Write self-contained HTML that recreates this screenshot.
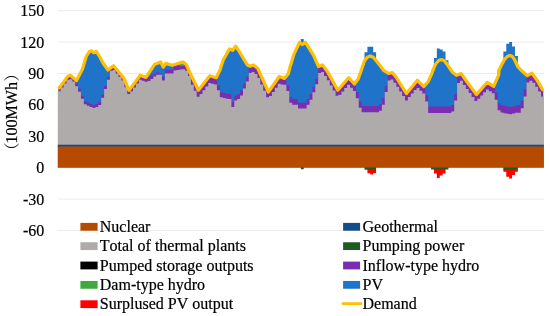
<!DOCTYPE html>
<html><head><meta charset="utf-8"><title>chart</title>
<style>
html,body{margin:0;padding:0;background:#fff;}
body{width:550px;height:316px;position:relative;overflow:hidden;}
.t{font-family:"Liberation Serif",serif;font-size:16px;font-kerning:none;fill:#000;stroke:#000;stroke-width:0.2px;}
</style></head><body>
<svg width="550" height="316" viewBox="0 0 550 316" style="position:absolute;left:0;top:0">
<rect width="550" height="316" fill="#fff"/>
<line x1="57.5" x2="544" y1="10.70" y2="10.70" stroke="#ebebeb" stroke-width="1"/>
<line x1="57.5" x2="544" y1="42.10" y2="42.10" stroke="#ebebeb" stroke-width="1"/>
<line x1="57.5" x2="544" y1="73.50" y2="73.50" stroke="#ebebeb" stroke-width="1"/>
<line x1="57.5" x2="544" y1="104.90" y2="104.90" stroke="#ebebeb" stroke-width="1"/>
<line x1="57.5" x2="544" y1="136.30" y2="136.30" stroke="#ebebeb" stroke-width="1"/>
<line x1="57.5" x2="544" y1="167.70" y2="167.70" stroke="#ebebeb" stroke-width="1"/>
<line x1="57.5" x2="544" y1="199.10" y2="199.10" stroke="#ebebeb" stroke-width="1"/>
<line x1="57.5" x2="544" y1="230.50" y2="230.50" stroke="#ebebeb" stroke-width="1"/>
<path d="M58.50,166.70L58.50,87.80L60.69,87.80L60.69,84.01L63.59,84.01L63.59,80.06L66.48,80.06L66.48,76.30L69.37,76.30L69.37,75.74L72.27,75.74L72.27,78.16L75.16,78.16L75.16,80.30L78.05,80.30L78.05,74.80L80.95,74.80L80.95,69.31L83.84,69.31L83.84,59.57L86.73,59.57L86.73,53.40L89.63,53.40L89.63,50.88L92.52,50.88L92.52,52.62L95.41,52.62L95.41,52.38L98.31,52.38L98.31,56.97L101.20,56.97L101.20,62.30L104.10,62.30L104.10,66.60L106.99,66.60L106.99,69.67L109.88,69.67L109.88,67.46L112.78,67.46L112.78,66.65L115.67,66.65L115.67,70.05L118.56,70.05L118.56,73.51L121.46,73.51L121.46,77.03L124.35,77.03L124.35,82.90L127.24,82.90L127.24,89.67L130.14,89.67L130.14,86.93L133.03,86.93L133.03,83.03L135.92,83.03L135.92,79.14L138.82,79.14L138.82,75.25L141.71,75.25L141.71,76.30L144.60,76.30L144.60,77.32L147.50,77.32L147.50,72.91L150.39,72.91L150.39,68.51L153.28,68.51L153.28,64.46L156.18,64.46L156.18,63.27L159.07,63.27L159.07,62.08L161.96,62.08L161.96,67.03L164.86,67.03L164.86,63.55L167.75,63.55L167.75,64.41L170.64,64.41L170.64,65.27L173.54,65.27L173.54,64.45L176.43,64.45L176.43,63.56L179.32,63.56L179.32,62.68L182.22,62.68L182.22,62.54L185.11,62.54L185.11,65.39L188.01,65.39L188.01,71.79L190.90,71.79L190.90,77.80L193.79,77.80L193.79,83.73L196.69,83.73L196.69,89.65L199.58,89.65L199.58,86.88L202.47,86.88L202.47,83.23L205.37,83.23L205.37,79.57L208.26,79.57L208.26,75.92L211.15,75.92L211.15,76.63L214.05,76.63L214.05,77.49L216.94,77.49L216.94,73.27L219.83,73.27L219.83,66.00L222.73,66.00L222.73,58.30L225.62,58.30L225.62,53.25L228.51,53.25L228.51,49.19L231.41,49.19L231.41,50.08L234.30,50.08L234.30,46.42L237.19,46.42L237.19,50.65L240.09,50.65L240.09,55.27L242.98,55.27L242.98,60.10L245.87,60.10L245.87,64.91L248.77,64.91L248.77,66.09L251.66,66.09L251.66,65.04L254.55,65.04L254.55,66.91L257.45,66.91L257.45,71.05L260.34,71.05L260.34,77.43L263.24,77.43L263.24,83.81L266.13,83.81L266.13,90.18L269.02,90.18L269.02,89.06L271.92,89.06L271.92,84.94L274.81,84.94L274.81,80.83L277.70,80.83L277.70,76.71L280.60,76.71L280.60,77.52L283.49,77.52L283.49,77.78L286.38,77.78L286.38,74.43L289.28,74.43L289.28,64.63L292.17,64.63L292.17,55.13L295.06,55.13L295.06,48.66L297.96,48.66L297.96,42.52L300.85,42.52L300.85,38.90L303.74,38.90L303.74,42.19L306.64,42.19L306.64,46.56L309.53,46.56L309.53,51.20L312.42,51.20L312.42,56.01L315.32,56.01L315.32,62.57L318.21,62.57L318.21,66.04L321.10,66.04L321.10,64.97L324.00,64.97L324.00,68.94L326.89,68.94L326.89,73.22L329.78,73.22L329.78,78.41L332.68,78.41L332.68,83.61L335.57,83.61L335.57,88.80L338.46,88.80L338.46,87.76L341.36,87.76L341.36,84.41L344.25,84.41L344.25,81.06L347.15,81.06L347.15,77.71L350.04,77.71L350.04,80.83L352.93,80.83L352.93,83.98L355.83,83.98L355.83,80.22L358.72,80.22L358.72,73.38L361.61,73.38L361.61,65.00L364.51,65.00L364.51,52.20L367.40,52.20L367.40,46.70L370.29,46.70L370.29,46.70L373.19,46.70L373.19,52.20L376.08,52.20L376.08,62.47L378.97,62.47L378.97,66.06L381.87,66.06L381.87,69.92L384.76,69.92L384.76,71.94L387.65,71.94L387.65,73.39L390.55,73.39L390.55,72.59L393.44,72.59L393.44,75.65L396.33,75.65L396.33,79.82L399.23,79.82L399.23,84.39L402.12,84.39L402.12,88.96L405.01,88.96L405.01,93.54L407.91,93.54L407.91,90.12L410.80,90.12L410.80,86.59L413.69,86.59L413.69,83.06L416.59,83.06L416.59,80.93L419.48,80.93L419.48,83.83L422.38,83.83L422.38,86.46L425.27,86.46L425.27,83.18L428.16,83.18L428.16,78.42L431.06,78.42L431.06,70.00L433.95,70.00L433.95,57.90L436.84,57.90L436.84,48.40L439.74,48.40L439.74,49.60L442.63,49.60L442.63,51.50L445.52,51.50L445.52,60.20L448.42,60.20L448.42,68.41L451.31,68.41L451.31,72.36L454.20,72.36L454.20,74.63L457.10,74.63L457.10,74.58L459.99,74.58L459.99,73.80L462.88,73.80L462.88,78.02L465.78,78.02L465.78,82.04L468.67,82.04L468.67,86.00L471.56,86.00L471.56,89.96L474.46,89.96L474.46,93.92L477.35,93.92L477.35,91.84L480.24,91.84L480.24,88.52L483.14,88.52L483.14,85.19L486.03,85.19L486.03,82.53L488.92,82.53L488.92,84.33L491.82,84.33L491.82,86.13L494.71,86.13L494.71,80.75L497.60,80.75L497.60,69.90L500.50,69.90L500.50,64.11L503.39,64.11L503.39,51.60L506.29,51.60L506.29,43.70L509.18,43.70L509.18,42.10L512.07,42.10L512.07,46.50L514.97,46.50L514.97,56.00L517.86,56.00L517.86,68.34L520.75,68.34L520.75,71.23L523.65,71.23L523.65,73.72L526.54,73.72L526.54,75.38L529.43,75.38L529.43,73.81L532.33,73.81L532.33,75.68L535.22,75.68L535.22,79.72L538.11,79.72L538.11,84.54L541.01,84.54L541.01,89.50L543.20,89.50L543.20,166.70Z" fill="#1f74c9"/>
<path d="M58.50,166.70L58.50,87.80L60.69,87.80L60.69,84.01L63.59,84.01L63.59,80.06L66.48,80.06L66.48,76.30L69.37,76.30L69.37,75.74L72.27,75.74L72.27,78.16L75.16,78.16L75.16,83.31L78.05,83.31L78.05,88.74L80.95,88.74L80.95,95.69L83.84,95.69L83.84,101.34L86.73,101.34L86.73,102.67L89.63,102.67L89.63,103.88L92.52,103.88L92.52,104.89L95.41,104.89L95.41,103.93L98.31,103.93L98.31,101.99L101.20,101.99L101.20,94.65L104.10,94.65L104.10,85.96L106.99,85.96L106.99,76.84L109.88,76.84L109.88,67.46L112.78,67.46L112.78,66.65L115.67,66.65L115.67,70.05L118.56,70.05L118.56,73.51L121.46,73.51L121.46,77.03L124.35,77.03L124.35,82.90L127.24,82.90L127.24,89.67L130.14,89.67L130.14,86.93L133.03,86.93L133.03,83.03L135.92,83.03L135.92,79.14L138.82,79.14L138.82,75.25L141.71,75.25L141.71,76.30L144.60,76.30L144.60,77.32L147.50,77.32L147.50,76.91L150.39,76.91L150.39,75.40L153.28,75.40L153.28,73.72L156.18,73.72L156.18,72.50L159.07,72.50L159.07,73.44L161.96,73.44L161.96,76.70L164.86,76.70L164.86,69.70L167.75,69.70L167.75,69.70L170.64,69.70L170.64,69.70L173.54,69.70L173.54,64.45L176.43,64.45L176.43,63.56L179.32,63.56L179.32,62.68L182.22,62.68L182.22,62.54L185.11,62.54L185.11,65.39L188.01,65.39L188.01,71.79L190.90,71.79L190.90,77.80L193.79,77.80L193.79,83.73L196.69,83.73L196.69,89.65L199.58,89.65L199.58,86.88L202.47,86.88L202.47,83.23L205.37,83.23L205.37,79.57L208.26,79.57L208.26,75.92L211.15,75.92L211.15,76.63L214.05,76.63L214.05,77.49L216.94,77.49L216.94,85.22L219.83,85.22L219.83,92.37L222.73,92.37L222.73,93.07L225.62,93.07L225.62,93.66L228.51,93.66L228.51,94.10L231.41,94.10L231.41,101.90L234.30,101.90L234.30,95.50L237.19,95.50L237.19,94.06L240.09,94.06L240.09,90.41L242.98,90.41L242.98,83.45L245.87,83.45L245.87,76.45L248.77,76.45L248.77,67.14L251.66,67.14L251.66,65.04L254.55,65.04L254.55,66.91L257.45,66.91L257.45,71.05L260.34,71.05L260.34,77.43L263.24,77.43L263.24,83.81L266.13,83.81L266.13,90.18L269.02,90.18L269.02,89.06L271.92,89.06L271.92,84.94L274.81,84.94L274.81,80.83L277.70,80.83L277.70,76.71L280.60,76.71L280.60,77.52L283.49,77.52L283.49,77.78L286.38,77.78L286.38,85.26L289.28,85.26L289.28,97.02L292.17,97.02L292.17,99.00L295.06,99.00L295.06,99.00L297.96,99.00L297.96,102.80L300.85,102.80L300.85,102.80L303.74,102.80L303.74,102.80L306.64,102.80L306.64,99.00L309.53,99.00L309.53,94.03L312.42,94.03L312.42,86.65L315.32,86.65L315.32,78.60L318.21,78.60L318.21,66.04L321.10,66.04L321.10,64.97L324.00,64.97L324.00,68.94L326.89,68.94L326.89,73.22L329.78,73.22L329.78,78.41L332.68,78.41L332.68,83.61L335.57,83.61L335.57,88.80L338.46,88.80L338.46,87.76L341.36,87.76L341.36,84.41L344.25,84.41L344.25,81.06L347.15,81.06L347.15,77.71L350.04,77.71L350.04,80.83L352.93,80.83L352.93,83.98L355.83,83.98L355.83,91.82L358.72,91.82L358.72,101.28L361.61,101.28L361.61,105.90L364.51,105.90L364.51,105.90L367.40,105.90L367.40,105.90L370.29,105.90L370.29,105.90L373.19,105.90L373.19,105.90L376.08,105.90L376.08,105.90L378.97,105.90L378.97,104.33L381.87,104.33L381.87,98.26L384.76,98.26L384.76,85.68L387.65,85.68L387.65,73.39L390.55,73.39L390.55,72.59L393.44,72.59L393.44,75.65L396.33,75.65L396.33,79.82L399.23,79.82L399.23,84.39L402.12,84.39L402.12,88.96L405.01,88.96L405.01,93.54L407.91,93.54L407.91,90.12L410.80,90.12L410.80,86.59L413.69,86.59L413.69,83.06L416.59,83.06L416.59,80.93L419.48,80.93L419.48,83.83L422.38,83.83L422.38,86.46L425.27,86.46L425.27,95.20L428.16,95.20L428.16,106.50L431.06,106.50L431.06,106.50L433.95,106.50L433.95,106.50L436.84,106.50L436.84,106.50L439.74,106.50L439.74,106.50L442.63,106.50L442.63,106.50L445.52,106.50L445.52,106.50L448.42,106.50L448.42,106.50L451.31,106.50L451.31,105.08L454.20,105.08L454.20,94.19L457.10,94.19L457.10,76.58L459.99,76.58L459.99,73.80L462.88,73.80L462.88,78.02L465.78,78.02L465.78,82.04L468.67,82.04L468.67,86.00L471.56,86.00L471.56,89.96L474.46,89.96L474.46,93.92L477.35,93.92L477.35,91.84L480.24,91.84L480.24,88.52L483.14,88.52L483.14,85.19L486.03,85.19L486.03,82.53L488.92,82.53L488.92,84.33L491.82,84.33L491.82,86.13L494.71,86.13L494.71,92.44L497.60,92.44L497.60,102.88L500.50,102.88L500.50,105.06L503.39,105.06L503.39,105.75L506.29,105.75L506.29,106.45L509.18,106.45L509.18,106.85L512.07,106.85L512.07,106.15L514.97,106.15L514.97,105.44L517.86,105.44L517.86,105.30L520.75,105.30L520.75,100.76L523.65,100.76L523.65,89.03L526.54,89.03L526.54,75.38L529.43,75.38L529.43,73.81L532.33,73.81L532.33,75.68L535.22,75.68L535.22,79.72L538.11,79.72L538.11,84.54L541.01,84.54L541.01,89.50L543.20,89.50L543.20,166.70Z" fill="#7a2db0"/>
<path d="M57.80,167.70L57.80,91.20L60.69,91.20L60.69,87.41L63.59,87.41L63.59,83.46L66.48,83.46L66.48,79.70L69.37,79.70L69.37,79.14L72.27,79.14L72.27,81.56L75.16,81.56L75.16,86.31L78.05,86.31L78.05,91.74L80.95,91.74L80.95,98.69L83.84,98.69L83.84,104.34L86.73,104.34L86.73,105.67L89.63,105.67L89.63,106.88L92.52,106.88L92.52,107.89L95.41,107.89L95.41,106.93L98.31,106.93L98.31,104.99L101.20,104.99L101.20,97.65L104.10,97.65L104.10,88.96L106.99,88.96L106.99,79.84L109.88,79.84L109.88,70.86L112.78,70.86L112.78,70.05L115.67,70.05L115.67,73.45L118.56,73.45L118.56,76.91L121.46,76.91L121.46,80.43L124.35,80.43L124.35,87.30L127.24,87.30L127.24,94.07L130.14,94.07L130.14,91.33L133.03,91.33L133.03,87.43L135.92,87.43L135.92,83.54L138.82,83.54L138.82,79.65L141.71,79.65L141.71,80.70L144.60,80.70L144.60,81.72L147.50,81.72L147.50,80.90L150.39,80.90L150.39,79.10L153.28,79.10L153.28,76.60L156.18,76.60L156.18,74.63L159.07,74.63L159.07,74.79L161.96,74.79L161.96,80.50L164.86,80.50L164.86,73.50L167.75,73.50L167.75,73.50L170.64,73.50L170.64,73.50L173.54,73.50L173.54,70.55L176.43,70.55L176.43,70.05L179.32,70.05L179.32,69.54L182.22,69.54L182.22,69.36L185.11,69.36L185.11,70.64L188.01,70.64L188.01,75.90L190.90,75.90L190.90,84.80L193.79,84.80L193.79,90.73L196.69,90.73L196.69,96.65L199.58,96.65L199.58,93.88L202.47,93.88L202.47,90.23L205.37,90.23L205.37,86.57L208.26,86.57L208.26,82.92L211.15,82.92L211.15,83.63L214.05,83.63L214.05,84.49L216.94,84.49L216.94,90.22L219.83,90.22L219.83,97.37L222.73,97.37L222.73,98.07L225.62,98.07L225.62,98.66L228.51,98.66L228.51,99.10L231.41,99.10L231.41,106.90L234.30,106.90L234.30,100.50L237.19,100.50L237.19,99.06L240.09,99.06L240.09,95.41L242.98,95.41L242.98,88.45L245.87,88.45L245.87,81.45L248.77,81.45L248.77,73.09L251.66,73.09L251.66,72.04L254.55,72.04L254.55,73.91L257.45,73.91L257.45,78.05L260.34,78.05L260.34,84.43L263.24,84.43L263.24,90.81L266.13,90.81L266.13,97.18L269.02,97.18L269.02,96.06L271.92,96.06L271.92,91.94L274.81,91.94L274.81,87.83L277.70,87.83L277.70,83.71L280.60,83.71L280.60,84.52L283.49,84.52L283.49,84.78L286.38,84.78L286.38,90.96L289.28,90.96L289.28,102.72L292.17,102.72L292.17,104.70L295.06,104.70L295.06,104.70L297.96,104.70L297.96,108.50L300.85,108.50L300.85,108.50L303.74,108.50L303.74,108.50L306.64,108.50L306.64,104.70L309.53,104.70L309.53,99.73L312.42,99.73L312.42,92.35L315.32,92.35L315.32,84.30L318.21,84.30L318.21,73.04L321.10,73.04L321.10,71.97L324.00,71.97L324.00,75.94L326.89,75.94L326.89,80.22L329.78,80.22L329.78,85.41L332.68,85.41L332.68,90.61L335.57,90.61L335.57,95.80L338.46,95.80L338.46,94.76L341.36,94.76L341.36,91.41L344.25,91.41L344.25,88.06L347.15,88.06L347.15,84.71L350.04,84.71L350.04,87.83L352.93,87.83L352.93,90.98L355.83,90.98L355.83,98.22L358.72,98.22L358.72,107.68L361.61,107.68L361.61,112.30L364.51,112.30L364.51,112.30L367.40,112.30L367.40,112.30L370.29,112.30L370.29,112.30L373.19,112.30L373.19,112.30L376.08,112.30L376.08,112.30L378.97,112.30L378.97,110.73L381.87,110.73L381.87,104.66L384.76,104.66L384.76,92.08L387.65,92.08L387.65,80.39L390.55,80.39L390.55,79.59L393.44,79.59L393.44,82.65L396.33,82.65L396.33,86.82L399.23,86.82L399.23,91.39L402.12,91.39L402.12,95.96L405.01,95.96L405.01,100.54L407.91,100.54L407.91,97.12L410.80,97.12L410.80,93.59L413.69,93.59L413.69,90.06L416.59,90.06L416.59,87.93L419.48,87.93L419.48,90.83L422.38,90.83L422.38,93.46L425.27,93.46L425.27,101.60L428.16,101.60L428.16,112.90L431.06,112.90L431.06,112.90L433.95,112.90L433.95,112.90L436.84,112.90L436.84,112.90L439.74,112.90L439.74,112.90L442.63,112.90L442.63,112.90L445.52,112.90L445.52,112.90L448.42,112.90L448.42,112.90L451.31,112.90L451.31,111.48L454.20,111.48L454.20,100.59L457.10,100.59L457.10,82.98L459.99,82.98L459.99,80.80L462.88,80.80L462.88,85.02L465.78,85.02L465.78,89.04L468.67,89.04L468.67,93.00L471.56,93.00L471.56,96.96L474.46,96.96L474.46,100.92L477.35,100.92L477.35,98.84L480.24,98.84L480.24,95.52L483.14,95.52L483.14,92.19L486.03,92.19L486.03,89.53L488.92,89.53L488.92,91.33L491.82,91.33L491.82,93.13L494.71,93.13L494.71,99.84L497.60,99.84L497.60,110.28L500.50,110.28L500.50,112.46L503.39,112.46L503.39,113.15L506.29,113.15L506.29,113.85L509.18,113.85L509.18,114.25L512.07,114.25L512.07,113.55L514.97,113.55L514.97,112.84L517.86,112.84L517.86,112.70L520.75,112.70L520.75,108.16L523.65,108.16L523.65,96.43L526.54,96.43L526.54,82.38L529.43,82.38L529.43,80.81L532.33,80.81L532.33,82.68L535.22,82.68L535.22,86.72L538.11,86.72L538.11,91.54L541.01,91.54L541.01,96.50L543.90,96.50L543.90,167.70Z" fill="#afabab"/>
<rect x="57.8" y="144.7" width="486.10" height="2.30" fill="#154c8c"/>
<rect x="57.8" y="146.5" width="486.10" height="21.20" fill="#b74a01"/>
<path d="M367.40,168.70L367.40,173.20L370.29,173.20L370.29,174.40L373.19,174.40L373.19,173.00L376.08,173.00L376.08,168.70Z M433.95,168.70L433.95,173.60L436.84,173.60L436.84,177.90L439.74,177.90L439.74,175.50L442.63,175.50L442.63,173.60L445.52,173.60L445.52,168.70Z M503.39,168.70L503.39,171.80L506.29,171.80L506.29,176.80L509.18,176.80L509.18,178.60L512.07,178.60L512.07,175.00L514.97,175.00L514.97,171.80L517.86,171.80L517.86,168.70Z" fill="#ff0000"/>
<path d="M300.85,167.20L300.85,169.20L303.74,169.20L303.74,167.20Z M364.51,167.20L364.51,169.80L367.40,169.80L367.40,169.80L370.29,169.80L370.29,169.80L373.19,169.80L373.19,169.80L376.08,169.80L376.08,167.20Z M431.06,167.20L431.06,169.50L433.95,169.50L433.95,169.50L436.84,169.50L436.84,169.50L439.74,169.50L439.74,169.50L442.63,169.50L442.63,169.50L445.52,169.50L445.52,169.50L448.42,169.50L448.42,167.20Z M503.39,167.20L503.39,169.80L506.29,169.80L506.29,169.80L509.18,169.80L509.18,169.80L512.07,169.80L512.07,169.80L514.97,169.80L514.97,169.80L517.86,169.80L517.86,167.20Z" fill="#1f5c22"/>
<rect x="179.5" y="61.5" width="4.9" height="4.4" fill="#3fa83f"/>
<polyline points="59.30,87.80 62.60,83.40 67.70,76.40 70.30,75.30 76.50,80.50 82.40,69.30 86.20,56.50 89.40,51.50 91.30,50.80 93.80,52.70 96.30,51.50 99.50,56.50 103.30,63.50 108.00,70.00 113.50,65.80 118.60,71.80 123.70,78.00 129.00,90.40 140.30,75.20 146.00,77.40 154.40,64.60 160.70,62.00 163.30,67.20 165.80,63.40 172.20,65.30 183.00,62.00 186.20,64.60 190.00,73.00 198.40,90.20 209.80,75.80 216.20,77.70 220.00,70.00 223.20,60.00 229.50,49.00 232.70,50.30 235.60,46.20 239.70,52.20 247.30,64.90 249.90,66.20 253.50,64.90 257.60,68.20 268.40,92.00 279.30,76.50 284.40,78.40 288.20,74.00 290.00,67.00 293.90,54.20 299.60,42.10 302.40,44.60 305.30,42.10 313.60,55.40 318.50,66.50 322.50,64.90 327.60,71.90 337.80,90.20 348.60,77.70 354.40,84.00 358.20,79.00 361.00,71.00 364.50,60.80 367.30,57.30 370.30,56.00 373.30,57.30 376.00,60.60 380.00,65.50 383.60,70.30 388.70,73.50 392.30,72.50 396.00,77.00 406.50,93.60 417.40,80.30 423.70,86.60 428.20,81.50 432.00,73.20 434.50,66.30 436.40,63.00 439.00,60.30 441.50,59.60 444.00,60.50 446.60,63.60 452.30,72.00 456.50,75.30 461.30,73.60 465.00,79.00 476.40,94.60 487.10,82.30 493.70,86.40 498.70,74.90 499.00,70.00 502.00,64.00 505.00,58.80 507.50,56.30 510.00,55.60 512.30,56.50 514.50,59.50 518.00,67.00 521.70,70.80 527.40,75.70 532.00,73.20 537.30,80.60 542.40,89.50" fill="none" stroke="#ffc000" stroke-width="3.2" stroke-linejoin="round" stroke-linecap="round"/>
<text x="44.3" y="16.10" text-anchor="end" class="t">150</text>
<text x="44.3" y="47.50" text-anchor="end" class="t">120</text>
<text x="44.3" y="78.90" text-anchor="end" class="t">90</text>
<text x="44.3" y="110.30" text-anchor="end" class="t">60</text>
<text x="44.3" y="141.70" text-anchor="end" class="t">30</text>
<text x="44.3" y="173.10" text-anchor="end" class="t">0</text>
<text x="44.3" y="204.50" text-anchor="end" class="t">-30</text>
<text x="44.3" y="235.90" text-anchor="end" class="t">-60</text>
<text transform="translate(16.8,112) rotate(-90)" text-anchor="middle" class="t"><tspan style="font-family:'Noto Serif CJK SC',serif;stroke:none" dx="0">（</tspan><tspan dx="-1">100MWh</tspan><tspan style="font-family:'Noto Serif CJK SC',serif;stroke:none" dx="0.5">）</tspan></text>
<rect x="80.4" y="222.90" width="17.2" height="7.8" fill="#b74a01"/>
<text x="99.8" y="231.90" class="t">Nuclear</text>
<rect x="80.4" y="242.25" width="17.2" height="7.8" fill="#afabab"/>
<text x="99.8" y="251.25" class="t">Total of thermal plants</text>
<rect x="80.4" y="261.60" width="17.2" height="7.8" fill="#000000"/>
<text x="99.8" y="270.60" class="t">Pumped storage outputs</text>
<rect x="80.4" y="280.95" width="17.2" height="7.8" fill="#3fa83f"/>
<text x="99.8" y="289.95" class="t">Dam-type hydro</text>
<rect x="80.4" y="300.30" width="17.2" height="7.8" fill="#ff0000"/>
<text x="99.8" y="309.30" class="t">Surplused PV output</text>
<rect x="343.1" y="222.90" width="17" height="7.8" fill="#154c8c"/>
<text x="362.5" y="231.90" class="t">Geothermal</text>
<rect x="343.1" y="242.25" width="17" height="7.8" fill="#1f5c22"/>
<text x="362.5" y="251.25" class="t">Pumping power</text>
<rect x="343.1" y="261.60" width="17" height="7.8" fill="#7a2db0"/>
<text x="362.5" y="270.60" class="t">Inflow-type hydro</text>
<rect x="343.1" y="280.95" width="17" height="7.8" fill="#1f74c9"/>
<text x="362.5" y="289.95" class="t">PV</text>
<line x1="342.8" x2="361" y1="303.60" y2="303.60" stroke="#ffc000" stroke-width="2.6" stroke-linecap="round"/>
<text x="362.5" y="309.30" class="t">Demand</text>
</svg>
</body></html>
